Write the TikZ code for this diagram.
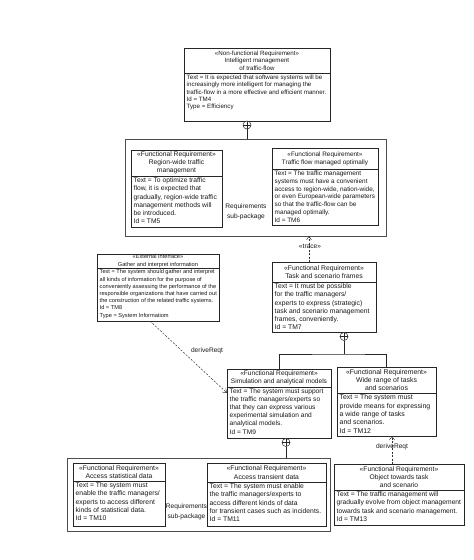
\documentclass[tikz,border=0pt]{standalone}
\usepackage{fontspec}
\setmainfont{Liberation Sans}
\usetikzlibrary{arrows.meta,fit,calc}
\newcommand{\rqbox}[9]{%
  \node[rbox, fit={(#2,#3) (#4,#5)}] (#1) {};
  \draw[sepline] (#2,#6) -- (#4,#6);
  \node[hdr, font=#9] (#1h) at ($(#2,#3)!0.5!(#4,#6)$) {#7};
  \node[bdy, font=#9] (#1b) at ([xshift=2.5pt,yshift=-1.6pt]#2,#6) {#8};
}
\begin{document}
\begin{tikzpicture}[x=1pt,y=-1pt,
  rbox/.style={draw=black!85, line width=0.5pt, inner sep=0pt, fill=white},
  pkg/.style={draw=black!70, line width=0.6pt, inner sep=0pt},
  sepline/.style={draw=black!85, line width=0.5pt},
  hdr/.style={align=center, inner sep=0pt, text=black!90},
  bdy/.style={align=left, inner sep=0pt, anchor=north west, text=black!90},
  cplus/.style={circle, draw=black!85, line width=0.5pt, minimum size=8pt, inner sep=0pt, fill=white,
    path picture={\draw[black!85, line width=0.5pt] (path picture bounding box.north) -- (path picture bounding box.south) (path picture bounding box.west) -- (path picture bounding box.east);}},
  conn/.style={draw=black!85, line width=0.5pt},
  dep/.style={draw=black!80, line width=0.5pt, dash pattern=on 2pt off 1.5pt, -{Straight Barb[length=3.5pt,width=5pt]}},
  lbl/.style={inner sep=0pt, align=center, text=black!90, font=\fontsize{6.6}{9.6}\selectfont},
]
\fill[white] (0,0) rectangle (474,560);
\useasboundingbox (0,0) rectangle (474,560);

% packages
\node[pkg, fit={(125,139) (386,236)}] (pkg1) {};
\node[pkg, fit={(67,458) (330,531)}] (pkg3) {};

% TM4
\rqbox{tm4}{184}{48}{330}{121}{73}{«Non-functional Requirement»\\Intelligent management\\of traffic-flow}{Text = It is expected that software systems will be\\increasingly more intelligent for managing the\\traffic-flow in a more effective and efficient manner.\\Id = TM4\\Type = Efficiency}{\fontsize{6.2}{7.4}\selectfont}

% TM5
\rqbox{tm5}{131}{150}{222}{227}{176}{«Functional Requirement»\\Region-wide traffic\\management}{Text = To optimize traffic\\flow, it is expected that\\gradually, region-wide traffic\\management methods will\\be introduced.\\Id = TM5}{\fontsize{6.7}{8.2}\selectfont}

% TM6
\rqbox{tm6}{272}{148}{378}{225}{169}{«Functional Requirement»\\Traffic flow managed optimally}{Text = The traffic management\\systems must have a convenient\\access to region-wide, nation-wide,\\or even European-wide parameters\\so that the traffic-flow can be\\managed optimally.\\Id = TM6}{\fontsize{6.4}{7.8}\selectfont}

\node[lbl] (rq1) at (246,212) {Requirements\\sub-package};

% TM8
\rqbox{tm8}{97}{254}{219}{321}{268}{«External Interface»\\Gather and interpret information}{Text = The system should gather and interpret\\all kinds of information for the purpose of\\conveniently assessing the performance of the\\responsible organizations that have carried out\\the construction of the related traffic systems.\\Id = TM8\\Type = System Informatiom}{\fontsize{5.65}{7.2}\selectfont}

% TM7
\rqbox{tm7}{272}{262}{376}{332}{282}{«Functional Requirement»\\Task and scenario frames}{Text = It must be possible\\for the traffic managers/\\experts to express (strategic)\\task and scenario management\\frames, conveniently.\\Id = TM7}{\fontsize{6.8}{8.2}\selectfont}

% TM9
\rqbox{tm9}{227}{369}{331}{438}{387}{«Functional Requirement»\\Simulation and analytical models}{Text = The system must support\\the traffic managers/experts so\\that they can express various\\experimental simulation and\\analytical models.\\Id = TM9}{\fontsize{6.6}{8.1}\selectfont}

% TM12
\rqbox{tm12}{337}{367}{436}{436}{393}{«Functional Requirement»\\Wide range of tasks\\and scenarios}{Text = The system must\\provide means for expressing\\a wide range of tasks\\and scenarios.\\Id = TM12}{\fontsize{6.9}{8.3}\selectfont}

% TM10
\rqbox{tm10}{73}{463}{165}{526}{481}{«Functional Requirement»\\Access statistical data}{Text = The system must\\enable the traffic managers/\\experts to access different\\kinds of statistical data.\\Id = TM10}{\fontsize{6.8}{8.2}\selectfont}

% TM11
\rqbox{tm11}{207}{463}{326}{526}{482}{«Functional Requirement»\\Access transient data}{Text = The system must enable\\the traffic managers/experts to\\access different kinds of data\\for transient cases such as incidents.\\Id = TM11}{\fontsize{6.8}{8.2}\selectfont}

% TM13
\rqbox{tm13}{334}{464}{464}{525}{490}{«Functional Requirement»\\Object towards task\\and scenario}{Text = The traffic management will\\gradually evolve from object management\\towards task and scenario management.\\Id = TM13}{\fontsize{6.7}{8.2}\selectfont}

\node[lbl] (rq2) at (186.5,512) {Requirements\\sub-package};

% containment circles
\node[cplus] (c1) at (247,125) {};
\node[cplus] (c2) at (344,336.5) {};
\node[cplus] (c3) at (286,442.5) {};
\draw[conn] (c1.south) -- (c1.south |- pkg1.north);
\draw[conn] (c3.south) -- (c3.south |- pkg3.north);
\coordinate (j2) at (344,354);
\draw[conn] (c2.south) -- (j2);
\draw[conn] (tm9.north) |- (j2) -| (tm12.north);

% trace
\coordinate (tr1) at (309,262);
\coordinate (tr2) at (309,236);
\draw[dep] (tr1) -- (tr2);
\node[lbl] (trl) at (310,246) {«trace»};

% deriveReqt TM9 -> TM8
\coordinate (dr1) at (150,321);
\coordinate (dr2) at (227,393);
\draw[dep] (dr1) -- (dr2);
\node[lbl] (drl1) at (207,351) {deriveReqt};

% deriveReqt TM13 -> TM12
\coordinate (dq1) at (392,464);
\coordinate (dq2) at (392,436);
\draw[dep] (dq1) -- (dq2);
\node[lbl] (drl2) at (392,447) {deriveReqt};
\end{tikzpicture}
\end{document}
